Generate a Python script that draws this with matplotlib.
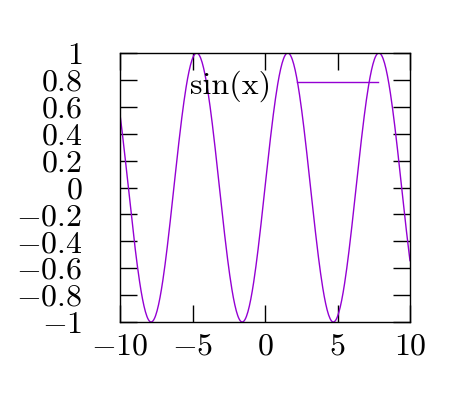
import numpy as np
import matplotlib
matplotlib.use('Agg')
import matplotlib.pyplot as plt

# gnuplot-style plot of sin(x) on [-10, 10]
x_range = [-10, 10]
y_range = [-1, 1]
x_ticks = [-10, -5, 0, 5, 10]
y_ticks = [-1, -0.8, -0.6, -0.4, -0.2, 0, 0.2, 0.4, 0.6, 0.8, 1]
y_labels = ['$-1$', '$-0.8$', '$-0.6$', '$-0.4$', '$-0.2$', '$0$',
            '$0.2$', '$0.4$', '$0.6$', '$0.8$', '$1$']
x_labels = ['$-10$', '$-5$', '$0$', '$5$', '$10$']
label = 'sin(x)'

x = np.linspace(x_range[0], x_range[1], 400)
y = np.sin(x)

plt.rcParams['mathtext.fontset'] = 'cm'
plt.rcParams['font.family'] = 'cmr10'
plt.rcParams['axes.unicode_minus'] = False

fig = plt.figure(figsize=(4.74, 3.97), dpi=100)
ax = fig.add_axes([120/474, 1 - 322/397, 290/474, 269/397])

ax.plot(x, y, color='#9400D3', lw=1.0, label=label)
ax.set_xlim(*x_range)
ax.set_ylim(*y_range)

ax.set_xticks(x_ticks)
ax.set_xticklabels(x_labels)
ax.set_yticks(y_ticks)
ax.set_yticklabels(y_labels)
ax.tick_params(direction='in', length=12, width=1, top=True, right=True,
               labelsize=23, colors='black')
ax.tick_params(axis='y', pad=27)
ax.tick_params(axis='x', pad=8)
for s in ax.spines.values():
    s.set_linewidth(1)

ax.legend(loc='center right', bbox_to_anchor=((394-120)/290, (322-86)/269),
          frameon=False, markerfirst=False, borderpad=0, handlelength=2.54,
          handletextpad=0.8, prop={'family': 'cmr10', 'size': 23})

fig.savefig('out.png', dpi=100)
